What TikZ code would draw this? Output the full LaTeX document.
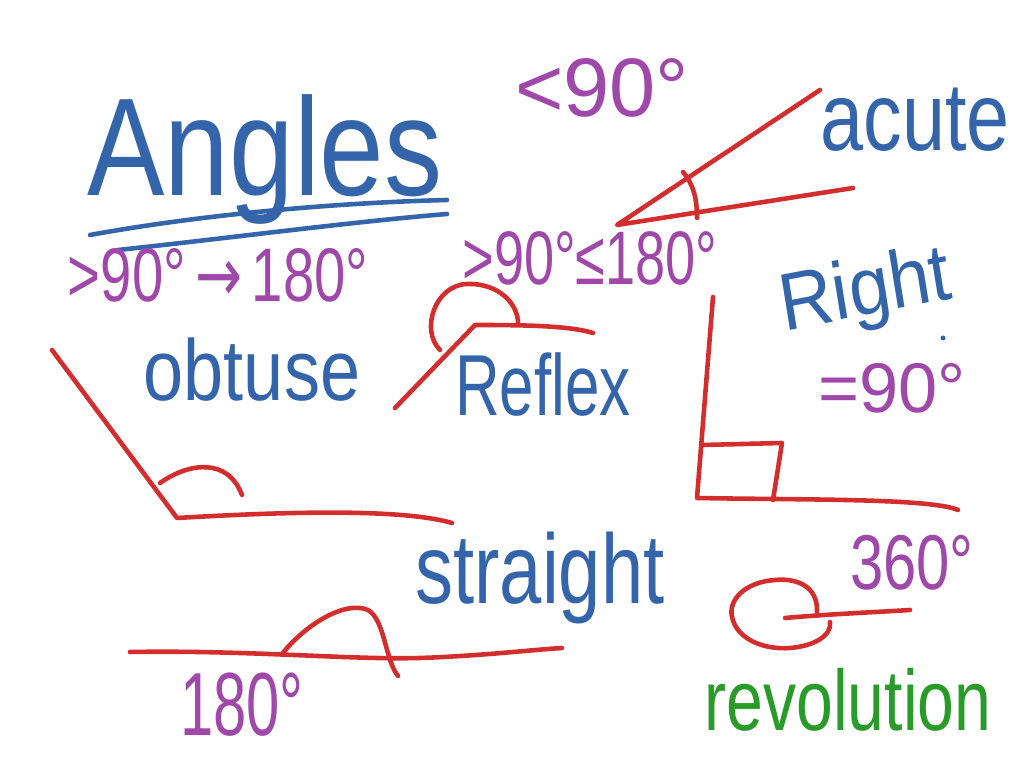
\documentclass[tikz,border=0pt]{standalone}
\usepackage{fontspec}
\setmainfont{Liberation Sans}
\newfontfamily\arrowfont{DejaVu Sans}

\definecolor{penred}{RGB}{212,45,45}
\definecolor{penblue}{RGB}{52,100,170}
\definecolor{penpurple}{RGB}{160,72,170}
\definecolor{pengreen}{RGB}{40,155,40}

\tikzset{
  pen/.style={line width=1.3pt, line cap=round, line join=round, penred},
  scrawl/.style={inner sep=0pt, transform shape, yscale=#1},
  scrawl/.default=1.3,
  sz/.style={font=\fontsize{#1}{#1}\selectfont},
}

\begin{document}
\begin{tikzpicture}[x=0.01cm, y=-0.01cm]

\useasboundingbox (0,0) rectangle (1024,768);

% title
\node[scrawl=1.2, sz=33, text=penblue] (title) at (265,160) {Angles};
\draw[pen, penblue] (90,235) .. controls (200,215) and (330,203) .. (447,200);
\draw[pen, penblue] (118,250) .. controls (230,238) and (350,222) .. (447,214);

% acute
\draw[pen] (820,90) coordinate (acute-a) -- (617,225) coordinate (acute-o) -- (853,188) coordinate (acute-b);
\draw[pen] (683,172) .. controls (694,185) and (697,200) .. (697,218);
\node[scrawl=1, sz=23.6, text=penpurple] (acute-deg) at (602,88) {<90°};
\node[scrawl=1.25, sz=22, text=penblue] (acute-label) at (915,120) {acute};

% obtuse
\node[scrawl=1.35, sz=16, text=penpurple] (obtuse-deg) at (218,275) {>90°\,{\arrowfont →}\,180°};
\draw[pen] (52,350) coordinate (obtuse-a) -- (177,518) coordinate (obtuse-o) .. controls (280,512) and (400,508) .. (452,523) coordinate (obtuse-b);
\draw[pen] (160,483) .. controls (190,462) and (228,458) .. (242,495);
\node[scrawl=1.2, sz=20.5, text=penblue] (obtuse-label) at (252,370) {obtuse};

% reflex
\node[scrawl=1.4, sz=15.4, text=penpurple] (reflex-deg) at (590,258) {>90°≤180°};
\draw[pen] (395,408) coordinate (reflex-a) -- (475,325) coordinate (reflex-o) .. controls (530,325) and (570,326) .. (593,333) coordinate (reflex-b);
\draw[pen] (440,350) .. controls (420,330) and (435,285) .. (467,284) .. controls (500,283) and (518,305) .. (518,323);
\node[scrawl=1.4, sz=17.6, text=penblue] (reflex-label) at (543,385) {Reflex};

% right
\draw[pen] (713,297) coordinate (right-a) -- (697,498) coordinate (right-o) .. controls (800,500) and (930,498) .. (958,510) coordinate (right-b);
\draw[pen] (703,445) -- (782,443) -- (773,500);
\node[scrawl=1.1, sz=21, text=penblue, rotate=10] (right-label) at (866,294) {Right};
\fill[penblue] (943,338) circle (2.5);
\node[scrawl=1, sz=20, text=penpurple] (right-deg) at (892,388) {=90°};

% straight
\draw[pen] (130,652) coordinate (straight-a) .. controls (250,650) and (350,660) .. (420,658) .. controls (480,656) and (530,650) .. (562,648) coordinate (straight-b);
\draw[pen] (282,654) .. controls (305,625) and (345,600) .. (368,610) .. controls (385,620) and (385,660) .. (398,676);
\node[scrawl=1.3, sz=21.6, text=penblue] (straight-label) at (540,578) {straight};
\node[scrawl=1.5, sz=17, text=penpurple] (straight-deg) at (242,705) {180°};

% revolution
\draw[pen] (785,618) coordinate (rev-o) .. controls (830,614) and (880,612) .. (910,610) coordinate (rev-a);
\draw[pen] (817,612) .. controls (818,585) and (795,578) .. (775,580) .. controls (745,582) and (728,600) .. (732,617) .. controls (737,640) and (765,650) .. (790,648) .. controls (815,646) and (832,635) .. (830,622);
\node[scrawl=1.3, sz=17, text=penpurple] (rev-deg) at (912,563) {360°};
\node[scrawl=1.3, sz=18.8, text=pengreen] (rev-label) at (848,700) {revolution};

\end{tikzpicture}
\end{document}
